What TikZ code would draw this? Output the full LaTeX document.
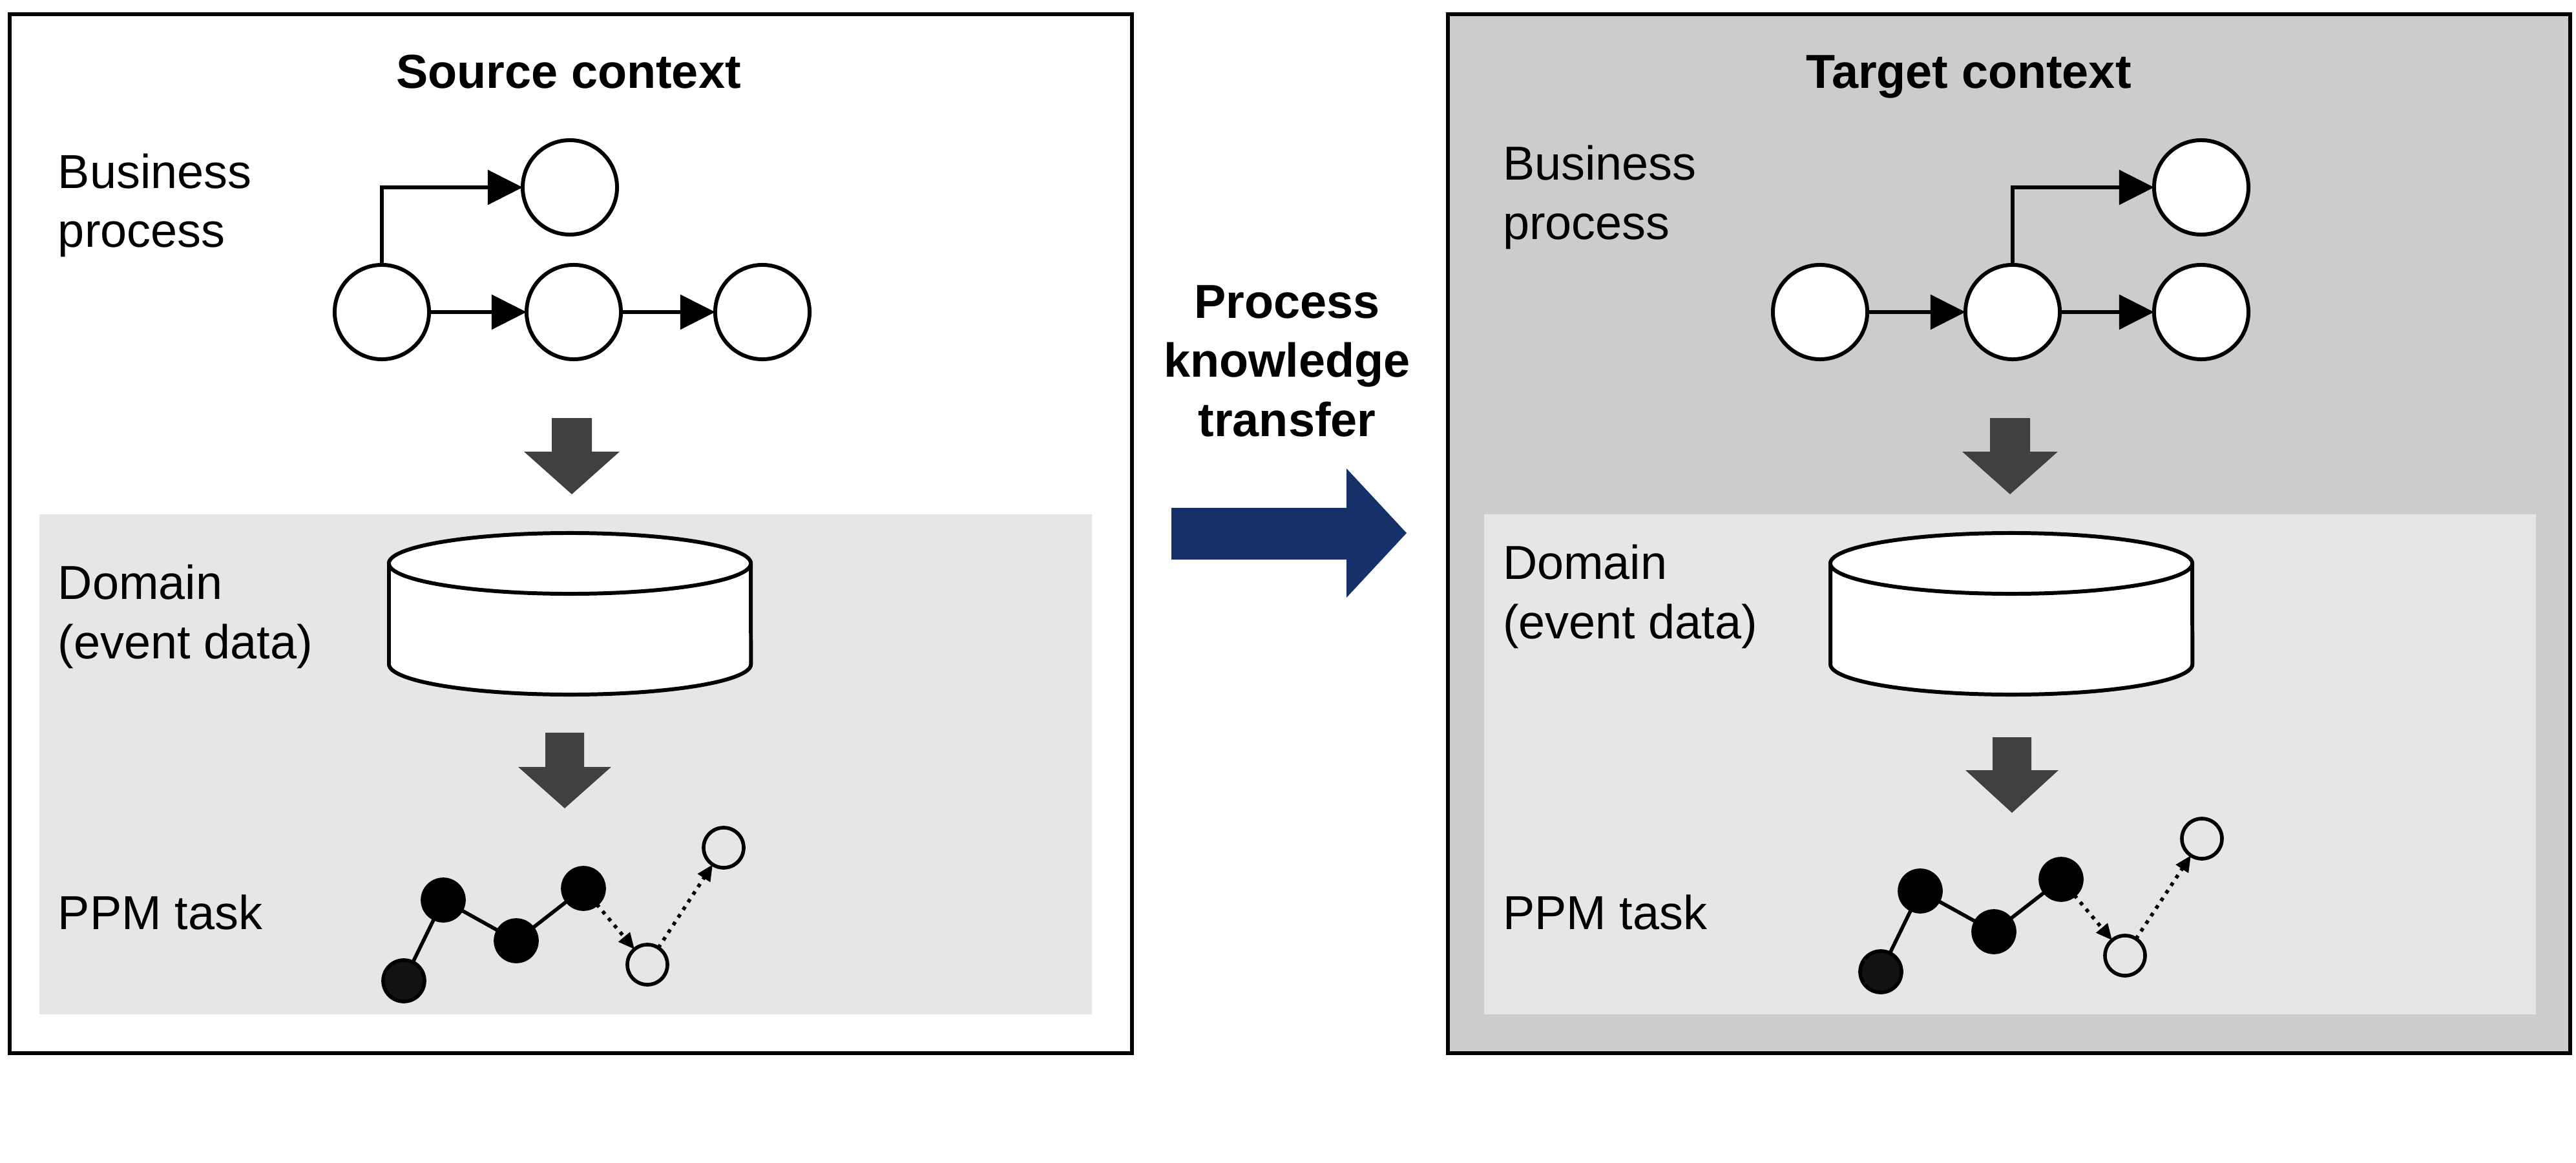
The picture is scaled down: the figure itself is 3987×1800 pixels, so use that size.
\documentclass[tikz,border=0pt]{standalone}
\usepackage{fontspec}
\setmainfont{Liberation Sans}
\usetikzlibrary{arrows.meta}

\definecolor{ctxgray}{HTML}{CCCCCC}
\definecolor{domgray}{HTML}{E6E6E6}
\definecolor{blkgray}{HTML}{404040}
\definecolor{kbblue}{HTML}{16316A}

\begin{document}
\begin{tikzpicture}[x=0.01cm, y=-0.01cm,
  every node/.style={font=\fontsize{21}{26}\selectfont, inner sep=0pt, outer sep=0pt},
  lbl/.style={anchor=base west, align=left},
  ttl/.style={anchor=base, font=\fontsize{21}{26}\selectfont\bfseries},
  act/.style={circle, draw, line width=1.7pt, fill=white, minimum size=1.46cm},
  flow/.style={line width=1.7pt, -{Triangle[length=0.54cm, width=0.53cm]}},
  ev/.style={circle, draw, line width=1.6pt, fill=black, minimum size=0.64cm},
  pr/.style={circle, draw, line width=1.6pt, fill=domgray, minimum size=0.62cm},
  nxt/.style={line width=1.6pt, dash pattern=on 1.6pt off 2.4pt, -{Triangle[length=0.25cm, width=0.22cm]}},
  cyl/.style={line width=1.7pt}]
\useasboundingbox (0,0) rectangle (3987,1800);

% source context
\draw[line width=1.6pt, fill=white] (15,22) rectangle (1752,1630);
\fill[domgray] (61,796) rectangle (1690,1570);
\node[ttl] (srcttl) at (880,137) {Source context};
\node[lbl] (srcbp) at (90,383) {Business\\process};
\node[lbl] (srcdom) at (90,1019) {Domain\\(event data)};
\node[lbl] (srcppm) at (90,1438) {PPM task};

\node[act] (a1) at (591,483) {};
\node[act] (a2) at (888,483) {};
\node[act] (a3) at (1180,483) {};
\node[act] (a4) at (882,290) {};
\draw[flow] (a1) -- (a2);
\draw[flow] (a2) -- (a3);
\draw[flow] (a1.north) |- (a4.west);

\fill[blkgray] (854,647) -- (916,647) -- (916,699) -- (959,699) -- (885,765) -- (811,699) -- (854,699) -- cycle;

\fill[white] (882,1028) ellipse[x radius=2.8cm, y radius=0.47cm];
\fill[white] (602,872) rectangle (1162,1028);
\draw[cyl] (602,872) -- (602,1028) arc[start angle=180, end angle=360, x radius=2.8cm, y radius=0.47cm] -- (1162,872);
\draw[cyl, fill=white] (882,872) ellipse[x radius=2.8cm, y radius=0.47cm];

\fill[blkgray] (844,1134) -- (904,1134) -- (904,1187) -- (946,1187) -- (874,1251) -- (802,1187) -- (844,1187) -- cycle;

\node[ev, fill=black!93] (p1) at (625,1518) {};
\node[ev] (p2) at (686,1393) {};
\node[ev] (p3) at (799,1456) {};
\node[ev] (p4) at (903,1375) {};
\node[pr] (p5) at (1002,1493) {};
\node[pr] (p6) at (1120,1312) {};
\draw[line width=1.6pt] (p1) -- (p2) -- (p3) -- (p4);
\draw[nxt] (p4) -- (p5);
\draw[nxt] (p5) -- (p6);

% transfer
\node[ttl, align=center] (kt) at (1992,675) {Process\\knowledge\\transfer};
\fill[kbblue] (1813,786) -- (2084,786) -- (2084,725) -- (2177,825) -- (2084,925) -- (2084,866) -- (1813,866) -- cycle;

% target context
\draw[line width=1.6pt, fill=ctxgray] (2241,22) rectangle (3978,1630);
\fill[domgray] (2297,796) rectangle (3925,1570);
\node[ttl] (tgtttl) at (3047,137) {Target context};
\node[lbl] (tgtbp) at (2326,370) {Business\\process};
\node[lbl] (tgtdom) at (2326,988) {Domain\\(event data)};
\node[lbl] (tgtppm) at (2326,1438) {PPM task};

\node[act] (b1) at (2817,483) {};
\node[act] (b2) at (3115,483) {};
\node[act] (b3) at (3407,483) {};
\node[act] (b4) at (3407,290) {};
\draw[flow] (b1) -- (b2);
\draw[flow] (b2) -- (b3);
\draw[flow] (b2.north) |- (b4.west);

\fill[blkgray] (3080,647) -- (3142,647) -- (3142,699) -- (3185,699) -- (3111,765) -- (3037,699) -- (3080,699) -- cycle;

\fill[white] (3113,1028) ellipse[x radius=2.8cm, y radius=0.47cm];
\fill[white] (2833,872) rectangle (3393,1028);
\draw[cyl] (2833,872) -- (2833,1028) arc[start angle=180, end angle=360, x radius=2.8cm, y radius=0.47cm] -- (3393,872);
\draw[cyl, fill=white] (3113,872) ellipse[x radius=2.8cm, y radius=0.47cm];

\fill[blkgray] (3084,1141) -- (3144,1141) -- (3144,1192) -- (3186,1192) -- (3114,1258) -- (3042,1192) -- (3084,1192) -- cycle;

\node[ev, fill=black!93] (q1) at (2911,1504) {};
\node[ev] (q2) at (2972,1379) {};
\node[ev] (q3) at (3086,1442) {};
\node[ev] (q4) at (3190,1361) {};
\node[pr] (q5) at (3289,1479) {};
\node[pr] (q6) at (3408,1298) {};
\draw[line width=1.6pt] (q1) -- (q2) -- (q3) -- (q4);
\draw[nxt] (q4) -- (q5);
\draw[nxt] (q5) -- (q6);
\end{tikzpicture}
\end{document}
